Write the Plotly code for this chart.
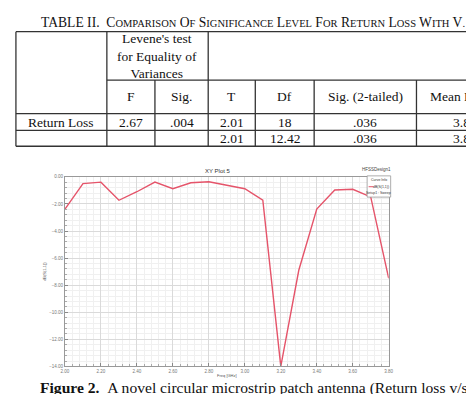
import plotly.graph_objects as go

# ---------------- data ----------------
freq_ghz = [2.0, 2.1, 2.2, 2.3, 2.4, 2.5, 2.6, 2.7, 2.8, 2.9, 3.0,
            3.1, 3.2, 3.3, 3.4, 3.5, 3.6, 3.7, 3.8]
s11_db = [-2.38, -0.50, -0.39, -1.73, -1.10, -0.39, -0.88, -0.44, -0.36, -0.61, -0.88,
          -1.73, -14.0, -6.90, -2.38, -0.97, -0.92, -1.48, -7.50]

table_title_words = ["COMPARISON", "OF", "SIGNIFICANCE", "LEVEL", "FOR", "RETURN", "LOSS", "WITH", "V."]
group_header = "Levene's test<br>for Equality of<br>Variances"
col_headers = ["F", "Sig.", "T", "Df", "Sig. (2-tailed)", "Mean Difference"]
row_labels = ["Return Loss", ""]
row1_values = ["2.67", ".004", "2.01", "18", ".036", "3.870"]
row2_values = ["", "", "2.01", "12.42", ".036", "3.870"]

caption_bold = "Figure 2."
caption_text = "A novel circular microstrip patch antenna (Return loss v/s frequency)"

W, H = 474, 394


def xp(px):
    return px / W


def yp(py):
    return 1 - py / H


fig = go.Figure()
fig.add_trace(go.Scatter(
    x=freq_ghz, y=s11_db, mode="lines",
    line=dict(color="#e5546a", width=1.4),
    showlegend=False, hoverinfo="skip"))

serif = "Liberation Serif, Times New Roman, serif"
sans = "Liberation Sans, Arial, sans-serif"

shapes = []
annotations = []

# ---------------- table ----------------
LINE = dict(color="#333333", width=1.3)


def hline(y, x0, x1):
    shapes.append(dict(type="line", xref="paper", yref="paper",
                       x0=xp(x0), x1=xp(x1), y0=yp(y), y1=yp(y), line=LINE))


def vline(x, y0, y1):
    shapes.append(dict(type="line", xref="paper", yref="paper",
                       x0=xp(x), x1=xp(x), y0=yp(y0), y1=yp(y1), line=LINE))


T_TOP, T_H1, T_H2, T_R1, T_BOT = 22, 71, 105, 122, 138
hline(T_TOP, 4, 480)
hline(T_H1, 96.7, 480)
hline(T_H2, 4, 480)
hline(T_R1, 4, 480)
hline(T_BOT, 4, 480)
vline(4, T_TOP, T_BOT)
vline(96.7, T_TOP, T_BOT)
vline(200, T_TOP, T_BOT)
for xv in [145.7, 248, 308, 412.3]:
    vline(xv, T_H1, T_BOT)


def txt(x, y, s, size=13.5, anchor="center", font=serif, color="#111111"):
    annotations.append(dict(
        x=xp(x), y=yp(y), xref="paper", yref="paper", text=s, showarrow=False,
        xanchor=anchor, yanchor="middle", align="center",
        font=dict(family=font, size=size, color=color)))


# title in small caps
title = "TABLE II.&nbsp;&nbsp;" + " ".join(
    w[0] + "<span style='font-size:10.5px'>" + w[1:] + "</span>" for w in table_title_words)
txt(28, 13, title, size=13.6, anchor="left")

txt(148.3, 47, group_header, size=13.5)
col_x = [121.2, 172.9, 224, 278, 360.2]
for cx, h in zip(col_x, col_headers[:5]):
    txt(cx, 88, h)
txt(424, 88, col_headers[5], anchor="left")

txt(50.3, 113.5, row_labels[0])
for cx, v in zip(col_x, row1_values[:5]):
    txt(cx, 113.5, v)
txt(447, 113.5, row1_values[5], anchor="left")
for cx, v in zip(col_x, row2_values[:5]):
    if v:
        txt(cx, 130, v)
txt(447, 130, row2_values[5], anchor="left")

# ---------------- chart decorations ----------------
txt(210, 163, "XY Plot 5", size=6, font=sans, color="#333333")
txt(372, 162, "HFSSDesign1", size=4.5, font=sans, color="#444444")

# legend box
shapes.append(dict(type="rect", xref="paper", yref="paper",
                   x0=xp(362), x1=xp(386), y0=yp(168), y1=yp(189.5),
                   line=dict(color="#999999", width=0.8), fillcolor="white"))
shapes.append(dict(type="line", xref="paper", yref="paper",
                   x0=xp(363.5), x1=xp(368.5), y0=yp(179), y1=yp(179),
                   line=dict(color="#e5546a", width=1)))
txt(374, 172.5, "Curve Info", size=3.5, font=sans, color="#333333")
txt(376.5, 179, "dB(S(1,1))", size=3.5, font=sans, color="#333333")
txt(374, 185, "Setup1 : Sweep", size=3.5, font=sans, color="#333333")

# caption
txt(26, 383, "<b>" + caption_bold + "</b>&nbsp;&nbsp;" + caption_text,
    size=15.6, anchor="left", color="#111111")

fig.update_layout(
    width=W, height=H, autosize=False,
    margin=dict(l=0, r=0, t=0, b=0),
    paper_bgcolor="white", plot_bgcolor="white",
    shapes=shapes, annotations=annotations,
    xaxis=dict(
        domain=[xp(54), xp(384)], range=[2.0, 3.8],
        tick0=2.0, dtick=0.2, tickformat=".2f",
        tickfont=dict(family=sans, size=4.5, color="#777777"),
        ticks="inside", ticklen=3, tickcolor="#888888",
        showgrid=True, gridcolor="#dadada", gridwidth=1,
        minor=dict(dtick=0.04, showgrid=True, gridcolor="#f0f0f0",
                   ticks="inside", ticklen=2, tickcolor="#aaaaaa"),
        showline=True, linecolor="#999999", linewidth=1, mirror=True,
        zeroline=False,
        title=dict(text="Freq [GHz]", font=dict(family=sans, size=4, color="#555555"),
                   standoff=1),
    ),
    yaxis=dict(
        domain=[yp(361), yp(169)], range=[-14, 0],
        tick0=0, dtick=2, tickformat=".2f",
        tickfont=dict(family=sans, size=4.5, color="#777777"),
        ticks="inside", ticklen=3, tickcolor="#888888",
        showgrid=True, gridcolor="#dadada", gridwidth=1,
        minor=dict(dtick=0.4, showgrid=True, gridcolor="#f0f0f0",
                   ticks="inside", ticklen=2, tickcolor="#aaaaaa"),
        showline=True, linecolor="#999999", linewidth=1, mirror=True,
        zeroline=False,
        title=dict(text="dB(S(1,1))", font=dict(family=sans, size=4, color="#555555"),
                   standoff=2),
    ),
)

fig.write_html("out.html")
